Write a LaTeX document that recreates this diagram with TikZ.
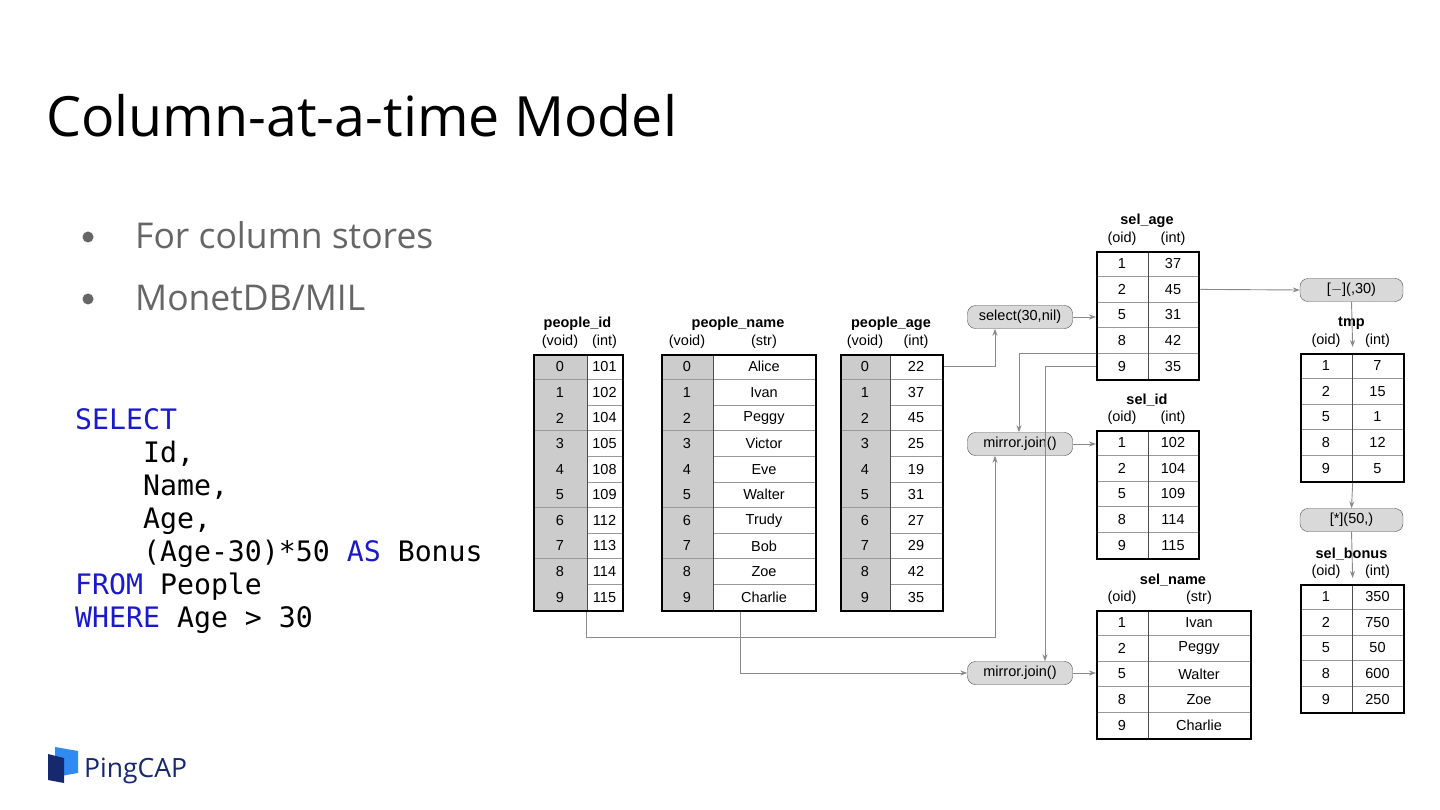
\documentclass[tikz,border=0pt]{standalone}
\usepackage{fontspec}
\setmainfont{Liberation Sans}
\newfontfamily\titlefont{Open Sans}
\newfontfamily\codefont{DejaVu Sans Mono}
\usetikzlibrary{arrows.meta}
\newif\ifshd
\definecolor{kw}{HTML}{1A1ACC}
\definecolor{conn}{HTML}{8A8A8A}
\definecolor{logolight}{HTML}{2F8BF0}
\definecolor{logodark}{HTML}{16286E}
\tikzset{
  cell/.style={font=\fontsize{14.5}{16}\selectfont, inner sep=0},
  ttl/.style={font=\bfseries\fontsize{14.5}{16}\selectfont, inner sep=0},
  op/.style={draw=black!70, fill=black!15, rounded corners=8pt, minimum width=105pt, minimum height=23pt, font=\fontsize{14.5}{16}\selectfont, inner sep=0},
  cn/.style={draw=conn, line width=0.9pt, -{Stealth[length=7pt,width=5pt]}},
  code/.style={font=\codefont\fontsize{28.2}{33}\selectfont, anchor=base west, inner sep=0},
}
% #1 name #2 x0 #3 xd #4 x1 #5 ytop #6 title #7 lh #8 rh #9 rows
\newcommand\mktbl[9]{%
  \node[ttl] at ({(#2+#4)/2},#5-30) {#6};
  \node[cell] at ({(#2+#3)/2},#5-12) {#7};
  \node[cell] at ({(#3+#4)/2},#5-12) {#8};
  \foreach \a/\b [count=\i] in {#9} {
    \pgfmathsetmacro\yt{#5+(\i-1)*25.6}\pgfmathsetmacro\yb{#5+\i*25.6}
    \ifshd \fill[black!20] (#2,\yt) rectangle (#3,\yb); \fi
    \draw[black!40, line width=0.8pt] (#2,\yb) -- (#4,\yb);
    \node[cell] at ({(#2+#3)/2},{(\yt+\yb)/2}) {\a};
    \node[cell] at ({(#3+#4)/2},{(\yt+\yb)/2}) {\b};
    \xdef\nr{\i}
  }
  \draw[black!70, line width=0.8pt] (#3,#5) -- (#3,{#5+\nr*25.6});
  \node (#1) [draw, line width=2.3pt, anchor=north west, inner sep=0,
    minimum width={(#4-#2)*1pt}, minimum height={\nr*25.6pt}] at (#2,#5) {};
}
\begin{document}
\begin{tikzpicture}[x=1pt,y=-1pt]
\useasboundingbox[fill=white] (0,0) rectangle (1440,810);
\node[anchor=base west, inner sep=0, font=\titlefont\fontsize{55.5}{64}\selectfont] (title) at (46,137) {Column-at-a-time Model};
\node[anchor=base west, inner sep=0, text=black!60, font=\titlefont\fontsize{35.5}{40}\selectfont] (b1) at (135,249) {For column stores};
\node[anchor=base west, inner sep=0, text=black!60, font=\titlefont\fontsize{35.5}{40}\selectfont] (b2) at (135,311) {MonetDB/MIL};
\fill[black!60] (88,237) circle (5.5) (88,299) circle (5.5);
\node[code] (c1) at (75,429) {\textcolor{kw}{SELECT}};
\node[code] (c2) at (75,462) {\ \ \ \ Id,};
\node[code] (c3) at (75,495) {\ \ \ \ Name,};
\node[code] (c4) at (75,528) {\ \ \ \ Age,};
\node[code] (c5) at (75,561) {\ \ \ \ (Age-30)*50 \textcolor{kw}{AS} Bonus};
\node[code] (c6) at (75,594) {\textcolor{kw}{FROM} People};
\node[code] (c7) at (75,627) {\textcolor{kw}{WHERE} Age > 30};
% logo
\fill[logolight] (55,747) -- (78,751) -- (78,773) -- (55,777) -- cycle;
\fill[logodark] (48,754) -- (64,758) -- (64,783) -- (48,780) -- cycle;
\node[anchor=base west, inner sep=0, text=logodark, font=\titlefont\fontsize{26.5}{30}\selectfont] (logo) at (84,777) {PingCAP};
% tables
\shdtrue
\mktbl{pid}{533}{587}{622}{354}{people\_id}{(void)}{(int)}{0/101,1/102,2/104,3/105,4/108,5/109,6/112,7/113,8/114,9/115}
\mktbl{pname}{661}{713}{815}{354}{people\_name}{(void)}{(str)}{0/Alice,1/Ivan,2/Peggy,3/Victor,4/Eve,5/Walter,6/Trudy,7/Bob,8/Zoe,9/Charlie}
\mktbl{page}{840}{890}{942}{354}{people\_age}{(void)}{(int)}{0/22,1/37,2/45,3/25,4/19,5/31,6/27,7/29,8/42,9/35}
\shdfalse
\mktbl{selage}{1096}{1148}{1198}{251}{sel\_age}{(oid)}{(int)}{1/37,2/45,5/31,8/42,9/35}
\mktbl{selid}{1096}{1148}{1198}{430}{sel\_id}{(oid)}{(int)}{1/102,2/104,5/109,8/114,9/115}
\mktbl{selname}{1096}{1148}{1250}{610}{sel\_name}{(oid)}{(str)}{1/Ivan,2/Peggy,5/Walter,8/Zoe,9/Charlie}
\mktbl{tmp}{1300}{1352}{1403}{353}{tmp}{(oid)}{(int)}{1/7,2/15,5/1,8/12,9/5}
\mktbl{selbonus}{1300}{1352}{1403}{584}{sel\_bonus}{(oid)}{(int)}{1/350,2/750,5/50,8/600,9/250}
% operators
\node[op] (select) at (1020,317) {select(30,nil)};
\node[op] (mj1) at (1020,444) {mirror.join()};
\node[op] (mj2) at (1020,673) {mirror.join()};
\node[op, minimum width=103pt] (minus) at (1351.5,290) {[$-$](,30)};
\node[op, minimum width=103pt] (times) at (1351.5,520) {[*](50,)};
% connectors
\draw[cn] ([yshift=-12.8pt]page.north east) -| ([xshift=-25pt]select.south);
\draw[cn] (select.east) -- (selage.west |- select.east);
\draw[cn] ([yshift=-102.4pt]selage.north west) -| ([xshift=-1pt]mj1.north);
\draw[cn] ([yshift=-115.2pt]selage.north west) -| ([xshift=25pt]mj2.north);
\draw[cn] ([xshift=7.5pt]pid.south) -- ++(0,25) -| ([xshift=-25pt]mj1.south);
\draw[cn] ([xshift=1pt]pname.south) |- (mj2.west);
\draw[cn] (mj1.east) -- (selid.west |- mj1.east);
\draw[cn] (mj2.east) -- (selname.west |- mj2.east);
\draw[cn] ([yshift=-38.4pt]selage.north east) -- (minus.west);
\draw[cn] (minus.south) -- ([yshift=6pt]tmp.north);
\draw[cn] (tmp.south) -- (times.north);
\draw[cn] (times.south) -- ([yshift=6pt]selbonus.north);
\end{tikzpicture}
\end{document}
